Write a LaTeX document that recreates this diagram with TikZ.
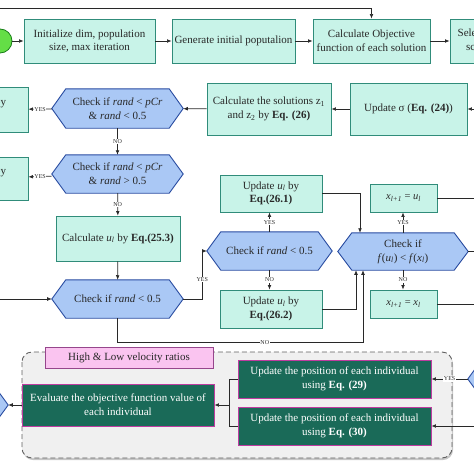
\documentclass[tikz,border=0pt]{standalone}
\usepackage{fontspec}
\setmainfont{Liberation Serif}
\usetikzlibrary{arrows.meta,positioning,calc,backgrounds,shadows}
\definecolor{ink}{RGB}{40,40,40}
\definecolor{tealF}{RGB}{200,243,232}
\definecolor{tealD}{RGB}{48,140,122}
\definecolor{hexF}{RGB}{170,200,245}
\definecolor{hexD}{RGB}{40,75,160}
\definecolor{deepG}{RGB}{26,106,88}
\definecolor{magD}{RGB}{190,60,160}
\definecolor{pinkF}{RGB}{250,196,240}
\definecolor{pinkD}{RGB}{150,70,140}
\definecolor{startG}{RGB}{100,222,70}
\definecolor{panelF}{RGB}{240,240,240}
\definecolor{panelD}{RGB}{95,95,95}
\tikzset{
  proc/.style={draw=tealD,fill=tealF,line width=0.8pt,inner sep=2pt,align=center,
    font=\fontsize{11}{13.7}\selectfont,text=ink},
  cond/.style={inner sep=1pt,align=center,font=\fontsize{11}{13.7}\selectfont,text=ink},
  hexline/.style={draw=hexD,fill=hexF,line width=0.9pt},
  upd/.style={draw=magD,fill=deepG,line width=0.8pt,inner sep=2pt,align=center,
    font=\fontsize{11}{13.7}\selectfont,text=white},
  note/.style={draw=pinkD,fill=pinkF,line width=0.8pt,inner sep=2pt,
    font=\fontsize{11}{12}\selectfont,text=ink},
  panel/.style={draw=panelD,dash pattern=on 5pt off 3pt,fill=panelF,rounded corners=10pt,
    line width=0.9pt,drop shadow={opacity=0.45,shadow xshift=1pt,shadow yshift=-2pt}},
  arr/.style={-{Latex[length=1.6mm,width=1.3mm]},line width=0.7pt,ink},
  link/.style={line width=0.7pt,ink},
  lbl/.style={fill=white,inner sep=0.6pt,font=\fontsize{6}{6.5}\selectfont,text=ink},
}
\newcommand{\hexback}[2][14]{%
  \path[hexline] (#2.west) -- ([xshift=#1pt]#2.north west) -- ([xshift=-#1pt]#2.north east)
    -- (#2.east) -- ([xshift=-#1pt]#2.south east) -- ([xshift=#1pt]#2.south west) -- cycle;}
\newcommand{\uvar}{\textit{u}\textsubscript{\textit{l}}}
\newcommand{\xvar}{\textit{x}\textsubscript{\textit{l}}}

\begin{document}
\begin{tikzpicture}[x=1pt,y=-1pt]
  \useasboundingbox (0,0) rectangle (474,474);
  \clip (0,0) rectangle (474,474);
  % top row
  \node[circle,draw=ink!60!green,fill=startG,line width=0.8pt,minimum size=24pt,inner sep=0pt] (start) at (0,41) {};
  \node[proc,minimum width=131pt,minimum height=44pt] (init) at (89.5,41) {Initialize dim, population\\ size, max iteration};
  \node[proc,minimum width=123pt,minimum height=44pt] (gen) at (233.5,41) {Generate initial poputalion};
  \node[proc,minimum width=117pt,minimum height=44pt] (calcobj) at (371.5,41) {Calculate Objective\\ function of each solution};
  \node[proc,minimum width=117pt,minimum height=44pt] (sel) at (508.5,41) {Select the best solution\\ score of population};
  \coordinate (loopin) at (0,8);
  % second row
  \node[proc,minimum width=100pt,minimum height=45pt] (upd251) at (-22,109.5) {Update \uvar{} by\\ \textbf{Eq.(25.1)}};
  \node[cond,minimum width=131pt,minimum height=39pt] (ckpcr1) at (117.5,108.5) {Check if \textit{rand} < \textit{pCr}\\ \& \textit{rand} < 0.5};
  \node[proc,minimum width=124pt,minimum height=52pt] (calcz) at (269,109) {Calculate the solutions z\textsubscript{1}\\ and z\textsubscript{2} by \textbf{Eq. (26)}};
  \node[proc,minimum width=117pt,minimum height=52pt] (updsig) at (408.5,109) {Update σ (\textbf{Eq. (24)})};
  \coordinate (sigin) at (474,109);
  % left column
  \node[proc,minimum width=100pt,minimum height=43pt] (upd252) at (-22,178.5) {Update \uvar{} by\\ \textbf{Eq.(25.2)}};
  \node[cond,minimum width=131pt,minimum height=38pt] (ckpcr2) at (117.5,174) {Check if \textit{rand} < \textit{pCr}\\ \& \textit{rand} > 0.5};
  \node[proc,minimum width=124pt,minimum height=45pt] (calcu) at (118,238.5) {Calculate \uvar{} by \textbf{Eq.(25.3)}};
  \node[cond,minimum width=131pt,minimum height=38pt] (ckr) at (117.5,299) {Check if \textit{rand} < 0.5};
  \coordinate (rin) at (0,299);
  % middle
  \node[cond,minimum width=125pt,minimum height=38pt] (ckmid) at (269.5,251) {Check if \textit{rand} < 0.5};
  \node[proc,minimum width=102pt,minimum height=37pt] (upd261) at (271,193.5) {Update \uvar{} by\\ \textbf{Eq.(26.1)}};
  \node[proc,minimum width=102pt,minimum height=38pt] (upd262) at (271,309) {Update \uvar{} by\\ \textbf{Eq.(26.2)}};
  \node[cond,minimum width=130pt,minimum height=37pt] (ckf) at (403,251.5) {Check if\\ \textit{f}(\uvar) < \textit{f}(\xvar)};
  \node[proc,minimum width=67pt,minimum height=28pt,font=\fontsize{10.5}{12}\selectfont] (xu) at (403.5,198) {\textit{x}\textsubscript{\textit{l+1}} = \uvar};
  \node[proc,minimum width=67pt,minimum height=28pt,font=\fontsize{10.5}{12}\selectfont] (xx) at (403.5,304) {\textit{x}\textsubscript{\textit{l+1}} = \xvar};
  \coordinate (fout) at (474,251.5);
  \coordinate (xuout) at (474,198);
  \coordinate (xxout) at (474,304);
  % velocity ratios
  \node[note,minimum width=168pt,minimum height=21pt] (ratios) at (129,357.5) {High \& Low velocity ratios};
  \node[upd,minimum width=192pt,minimum height=42pt] (evalb) at (118,405) {Evaluate the objective function value of\\ each individual};
  \node[upd,minimum width=193pt,minimum height=38pt] (upd29) at (334.5,379) {Update the position of each individual\\ using \textbf{Eq. (29)}};
  \node[upd,minimum width=193pt,minimum height=38pt] (upd30) at (334.5,426) {Update the position of each individual\\ using \textbf{Eq. (30)}};
  \node[cond,minimum width=130pt,minimum height=38pt] (leftdia) at (-57,405) {};
  \node[cond,minimum width=130pt,minimum height=38pt] (rightdia) at (533,379) {};
  \coordinate (jn) at (229,405);
  \coordinate (u30in) at (474,426);

  \begin{scope}[on background layer]
    \draw[panel] (22,352) rectangle (452,458);
    \foreach \h in {ckpcr1,ckpcr2,ckr,ckmid,ckf,leftdia,rightdia} {\hexback{\h}}
  \end{scope}

  % connectors
  \draw[arr] (start) -- (init);
  \draw[arr] (init) -- (gen);
  \draw[arr] (gen) -- (calcobj);
  \draw[arr] (calcobj) -- (sel);
  \draw[arr] (loopin) -| (calcobj.north);
  \draw[arr] (sigin) -- (updsig);
  \draw[arr] (updsig) -- (calcz);
  \draw[arr] (calcz) -- (ckpcr1);
  \draw[arr] (ckpcr1) -- node[lbl]{YES} (upd251);
  \draw[arr] (ckpcr1) -- node[lbl]{NO} (ckpcr2);
  \draw[arr] (ckpcr2) -- node[lbl]{YES} (upd252);
  \draw[arr] (ckpcr2) -- node[lbl]{NO} (calcu);
  \draw[arr] (calcu) -- (ckr);
  \draw[arr] (rin) -- (ckr);
  \draw[arr] (ckr.east) -- ++(19,0) |- node[lbl,pos=0.2]{YES} (ckmid.west);
  \draw[arr] (ckmid.north) -- node[lbl]{YES} (upd261.south -| ckmid.north);
  \draw[arr] (ckmid.south) -- node[lbl]{NO} (upd262.north -| ckmid.south);
  \draw[arr] (upd261.east) -| ($(ckf.north)+(-43,0)$);
  \draw[arr] (upd262.east) -| ($(ckf.south)+(-47,0)$);
  \draw[arr] (ckr.south) -- ++(0,24) -| node[lbl,pos=0.3]{NO} ($(ckf.south)+(-40,0)$);
  \draw[arr] (ckf.north) -- node[lbl]{YES} (xu.south -| ckf.north);
  \draw[arr] (ckf.south) -- node[lbl]{NO} (xx.north -| ckf.south);
  \draw[link] (ckf.east) -- (fout);
  \draw[link] (xu.east) -- (xuout);
  \draw[link] (xx.east) -- (xxout);
  \draw[arr] (rightdia.west) -- node[lbl]{YES} (upd29.east);
  \draw[arr] (u30in) -- (upd30.east);
  \draw[link] (upd29.west) -| (jn);
  \draw[link] (upd30.west) -| (jn);
  \draw[arr] (jn) -- (evalb.east);
  \draw[arr] (evalb.west) -- (leftdia.east);
\end{tikzpicture}
\end{document}
